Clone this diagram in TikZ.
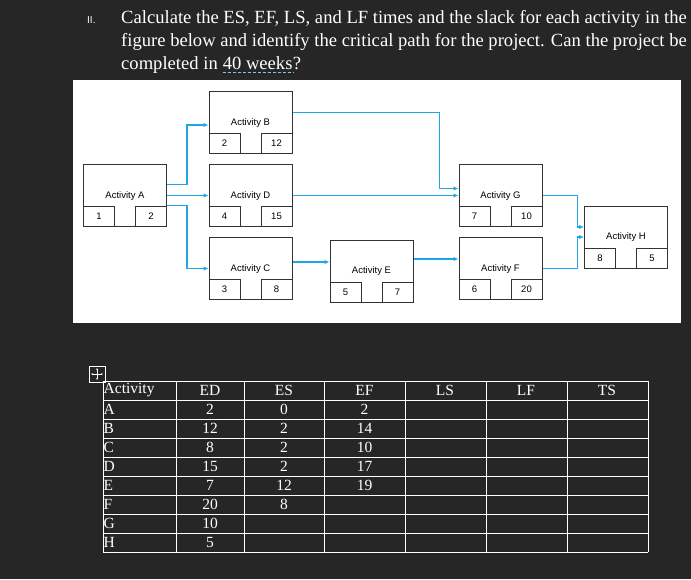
\documentclass[tikz,border=0pt]{standalone}
\usepackage{fontspec}
\setmainfont{Liberation Serif}
\newfontfamily\diagfont{Liberation Sans}
\usetikzlibrary{arrows.meta}
\definecolor{pagebg}{HTML}{262626}
\definecolor{linkblue}{HTML}{1EA7E8}
\tikzset{
  actbox/.style = {draw=black!80, line width=1pt, minimum width=83pt, minimum height=62pt, inner sep=0pt},
  cell/.style = {draw=black!80, line width=1pt, minimum width=31pt, minimum height=20pt, inner sep=0pt, font=\diagfont\fontsize{9.5}{11}\selectfont},
  actlabel/.style = {font=\diagfont\fontsize{9.5}{11}\selectfont, inner sep=0pt},
  link/.style = {linkblue, line width=1.6pt, -{Latex[length=5pt,width=4.5pt]}},
  title/.style = {white, anchor=base west, inner sep=0pt, font=\fontsize{18.6}{21}\selectfont},
  cellval/.style = {white, inner sep=0pt, font=\fontsize{15.5}{17}\selectfont}
}
% one activity: name, x, y, label, left cell, right cell
\newcommand{\activity}[6]{
  \node[actbox] (#1) at (#2,#3) {};
  \node[actlabel] (#1l) at ([yshift=31pt]#1.south) {#4};
  \node[cell, anchor=south west] (#1s) at (#1.south west) {#5};
  \node[cell, anchor=south east] (#1f) at (#1.south east) {#6};
}
\begin{document}
\begin{tikzpicture}[x=1pt, y=-1pt]
  \fill[pagebg] (0,0) rectangle (691,579);
  \useasboundingbox (0,0) rectangle (691,579);
  % question
  \node[white, anchor=base west, inner sep=0pt, font=\diagfont\fontsize{10}{12}\selectfont] (num) at (87,23) {II.};
  \node[title] (q1) at (121,23) {Calculate the ES, EF, LS, and LF times and the slack for each activity in the};
  \node[title] (q2) at (121,46) {figure below and identify the critical path for the project. Can the project be};
  \node[title] (q3) at (121,69) {completed in};
  \node[title] (weeks) at ([xshift=4.6pt]q3.base east) {40 weeks};
  \node[title] (qm) at (weeks.base east) {?};
  \draw[linkblue!60!white, line width=1pt, dash pattern=on 3pt off 2pt] ([yshift=-3pt]weeks.base west) -- ([yshift=-3pt]weeks.base east);
  % network
  \fill[white] (73,80) rectangle (681,323);
  \activity{A}{125}{195.5}{Activity A}{1}{2}
  \activity{B}{250.5}{122.5}{Activity B}{2}{12}
  \activity{D}{250.5}{195.5}{Activity D}{4}{15}
  \activity{C}{250.5}{268.5}{Activity C}{3}{8}
  \activity{E}{371.5}{271}{Activity E}{5}{7}
  \activity{G}{500.5}{195.5}{Activity G}{7}{10}
  \activity{F}{500.5}{268.5}{Activity F}{6}{20}
  \activity{H}{626}{237}{Activity H}{8}{5}
  \draw[link] ([yshift=11pt]A.east) -- ++(20,0) |- ([yshift=-2.5pt]B.west);
  \draw[link] (A.east) -- (D.west);
  \draw[link] ([yshift=-10pt]A.east) -- ++(20,0) |- (C.west);
  \draw[link] ([yshift=10pt]B.east) -- ++(147,0) |- ([yshift=7pt]G.west);
  \draw[link] (D.east) -- (G.west);
  \draw[link] ([yshift=6.5pt]C.east) -- ([yshift=9pt]E.west);
  \draw[link] ([yshift=12pt]E.east) -- ([yshift=9.5pt]F.west);
  \draw[link] (G.east) -- ++(35,0) |- ([yshift=10pt]H.west);
  \draw[link] (F.east) -- ++(35,0) |- (H.west);
  % table handle
  \draw[white, line width=0.7pt] (89,366) rectangle (105,382);
  \draw[white, line width=0.5pt, {Stealth[length=2pt]}-{Stealth[length=2pt]}] (91,374) -- (103,374);
  \draw[white, line width=0.5pt, {Stealth[length=2pt]}-{Stealth[length=2pt]}] (97,368) -- (97,380);
  % table
  \foreach \x in {103,176,244,324,405,486,567,648}
    \draw[white, line width=0.8pt] (\x,381) -- (\x,552);
  \foreach \k in {0,...,9}
    \draw[white, line width=0.8pt] (103,381+19*\k) -- (648,381+19*\k);
  \foreach \txt [count=\i from 0] in {Activity,A,B,C,D,E,F,G,H}
    \node[cellval, anchor=west] (row\i) at (103.5,390.5+19*\i) {\txt};
  \foreach \txt/\x in {ED/210,ES/284,EF/364.5,LS/445,LF/526,TS/607}
    \node[cellval] (h\txt) at (\x,390.5) {\txt};
  \foreach \v [count=\i] in {2,12,8,15,7,20,10,5}
    \node[cellval] (ed\i) at (210,390.5+19*\i) {\v};
  \foreach \v [count=\i] in {0,2,2,2,12,8}
    \node[cellval] (es\i) at (284,390.5+19*\i) {\v};
  \foreach \v [count=\i] in {2,14,10,17,19}
    \node[cellval] (ef\i) at (364.5,390.5+19*\i) {\v};
\end{tikzpicture}
\end{document}
